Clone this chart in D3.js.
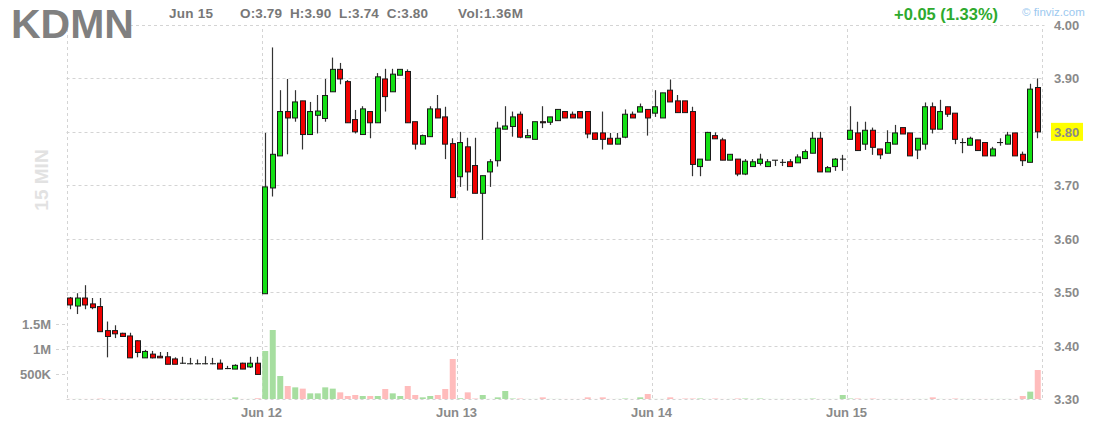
<!DOCTYPE html>
<html>
<head>
<meta charset="utf-8">
<script src="https://cdn.jsdelivr.net/npm/d3@7"></script>
<style>
  html, body { margin: 0; padding: 0; background: #fff; }
  svg { display: block; font-family: Arial, 'Liberation Sans', sans-serif; }
</style>
</head>
<body>
<div id="chart"></div>
<script>
// KDMN 15 min bars, Jun 11 - Jun 15 (26 bars per session)
const opens = [
  3.489, 3.474, 3.489, 3.478, 3.473, 3.428, 3.428, 3.423, 3.418, 3.409, 3.377, 3.384, 3.380,
  3.379, 3.375, 3.367, 3.366, 3.366, 3.366, 3.366, 3.367, 3.357, 3.356, 3.367, 3.360, 3.367,
  3.497, 3.695, 3.755, 3.838, 3.826, 3.858, 3.795, 3.831, 3.825, 3.875, 3.917, 3.894, 3.823,
  3.795, 3.838, 3.817, 3.899, 3.875, 3.906, 3.913, 3.819, 3.777, 3.791, 3.843, 3.828, 3.778,
  3.716, 3.772, 3.737, 3.685, 3.725, 3.746, 3.805, 3.810, 3.833, 3.789, 3.786, 3.819, 3.818,
  3.821, 3.838, 3.833, 3.838, 3.838, 3.798, 3.798, 3.788, 3.777, 3.790, 3.833, 3.837, 3.842,
  3.835, 3.826, 3.878, 3.858, 3.858, 3.838, 3.735, 3.747, 3.793, 3.785, 3.747, 3.749, 3.721,
  3.735, 3.741, 3.735, 3.747, 3.743, 3.744, 3.742, 3.750, 3.760, 3.788, 3.725, 3.735, 3.749,
  3.786, 3.798, 3.777, 3.803, 3.768, 3.760, 3.777, 3.808, 3.798, 3.766, 3.777, 3.847, 3.805,
  3.847, 3.835, 3.780, 3.775, 3.785, 3.780, 3.755, 3.780, 3.777, 3.798, 3.758, 3.743, 3.883
];
const highs = [
  3.491, 3.498, 3.513, 3.489, 3.489, 3.445, 3.438, 3.424, 3.424, 3.410, 3.392, 3.390, 3.388,
  3.388, 3.378, 3.379, 3.377, 3.374, 3.380, 3.377, 3.374, 3.362, 3.365, 3.368, 3.379, 3.379,
  3.798, 3.958, 3.878, 3.899, 3.878, 3.858, 3.856, 3.869, 3.899, 3.939, 3.929, 3.897, 3.841,
  3.848, 3.838, 3.910, 3.918, 3.918, 3.917, 3.917, 3.819, 3.795, 3.848, 3.869, 3.847, 3.788,
  3.800, 3.789, 3.789, 3.718, 3.749, 3.819, 3.848, 3.838, 3.838, 3.805, 3.819, 3.848, 3.828,
  3.842, 3.838, 3.838, 3.838, 3.838, 3.798, 3.838, 3.798, 3.798, 3.842, 3.838, 3.853, 3.842,
  3.878, 3.873, 3.898, 3.869, 3.858, 3.847, 3.749, 3.800, 3.799, 3.789, 3.758, 3.749, 3.749,
  3.749, 3.759, 3.749, 3.747, 3.749, 3.749, 3.758, 3.767, 3.800, 3.800, 3.736, 3.751, 3.757,
  3.848, 3.819, 3.819, 3.808, 3.768, 3.803, 3.813, 3.808, 3.798, 3.788, 3.855, 3.855, 3.860,
  3.847, 3.835, 3.788, 3.791, 3.785, 3.780, 3.772, 3.788, 3.800, 3.798, 3.763, 3.890, 3.900
];
const lows = [
  3.468, 3.459, 3.468, 3.468, 3.426, 3.378, 3.414, 3.417, 3.377, 3.378, 3.377, 3.376, 3.377,
  3.365, 3.365, 3.366, 3.365, 3.365, 3.365, 3.365, 3.356, 3.356, 3.356, 3.356, 3.358, 3.346,
  3.497, 3.679, 3.755, 3.758, 3.819, 3.767, 3.795, 3.797, 3.819, 3.875, 3.889, 3.817, 3.797,
  3.795, 3.788, 3.817, 3.838, 3.875, 3.906, 3.817, 3.767, 3.777, 3.791, 3.826, 3.749, 3.677,
  3.697, 3.690, 3.685, 3.598, 3.697, 3.735, 3.805, 3.791, 3.788, 3.789, 3.786, 3.807, 3.813,
  3.821, 3.826, 3.826, 3.826, 3.788, 3.786, 3.767, 3.777, 3.777, 3.788, 3.826, 3.837, 3.793,
  3.828, 3.826, 3.856, 3.836, 3.836, 3.717, 3.717, 3.747, 3.787, 3.747, 3.747, 3.717, 3.719,
  3.735, 3.737, 3.735, 3.736, 3.736, 3.735, 3.742, 3.749, 3.760, 3.725, 3.725, 3.727, 3.727,
  3.786, 3.765, 3.766, 3.757, 3.749, 3.760, 3.777, 3.796, 3.755, 3.749, 3.767, 3.797, 3.805,
  3.828, 3.777, 3.760, 3.775, 3.765, 3.755, 3.755, 3.774, 3.777, 3.755, 3.736, 3.743, 3.788
];
const closes = [
  3.476, 3.489, 3.476, 3.471, 3.426, 3.417, 3.422, 3.417, 3.377, 3.387, 3.389, 3.377, 3.377,
  3.365, 3.365, 3.367, 3.366, 3.366, 3.366, 3.366, 3.356, 3.357, 3.363, 3.356, 3.367, 3.346,
  3.697, 3.758, 3.838, 3.826, 3.856, 3.795, 3.838, 3.839, 3.868, 3.917, 3.899, 3.817, 3.800,
  3.843, 3.817, 3.903, 3.866, 3.908, 3.917, 3.817, 3.777, 3.793, 3.843, 3.826, 3.777, 3.677,
  3.780, 3.725, 3.685, 3.718, 3.744, 3.807, 3.811, 3.828, 3.790, 3.793, 3.819, 3.817, 3.828,
  3.842, 3.826, 3.826, 3.826, 3.796, 3.786, 3.786, 3.777, 3.788, 3.833, 3.826, 3.847, 3.826,
  3.847, 3.873, 3.856, 3.836, 3.836, 3.739, 3.749, 3.799, 3.787, 3.747, 3.758, 3.721, 3.745,
  3.744, 3.749, 3.744, 3.747, 3.743, 3.735, 3.753, 3.763, 3.788, 3.725, 3.733, 3.749, 3.749,
  3.803, 3.765, 3.803, 3.771, 3.757, 3.780, 3.798, 3.796, 3.755, 3.788, 3.847, 3.805, 3.838,
  3.833, 3.786, 3.780, 3.788, 3.765, 3.755, 3.768, 3.780, 3.794, 3.755, 3.746, 3.880, 3.800
];
// volume in thousands of shares
const volumes = [
  2, 2, 2, 2, 8, 2, 2, 2, 2, 2, 2, 2, 2,
  2, 2, 2, 2, 2, 2, 2, 2, 2, 33, 2, 2, 15,
  960, 1380, 460, 260, 233, 207, 113, 113, 233, 207, 133, 60, 80,
  60, 60, 60, 200, 113, 60, 260, 80, 33, 60, 80, 200, 800,
  15, 133, 10, 80, 2, 33, 160, 10, 10, 2, 2, 33, 2,
  2, 2, 2, 2, 33, 2, 33, 2, 2, 10, 2, 33, 100,
  2, 2, 33, 2, 10, 10, 10, 2, 10, 2, 2, 10, 10,
  2, 10, 2, 2, 2, 2, 2, 2, 10, 2, 2, 2, 80,
  10, 10, 2, 10, 2, 2, 2, 2, 2, 2, 2, 33, 2,
  2, 10, 2, 2, 2, 2, 2, 2, 2, 2, 60, 147, 580
];

const dayLabels = ['Jun 12', 'Jun 13', 'Jun 14', 'Jun 15'];
const dayStarts = [26, 52, 78, 104];
const priceTicks = [3.30, 3.40, 3.50, 3.60, 3.70, 3.80, 3.90, 4.00];
const volumeTicks = [500, 1000, 1500];
const volumeTickLabels = ['500K', '1M', '1.5M'];

const ticker = 'KDMN';
const headerDate = 'Jun 15';
const ohlcText = 'O:3.79  H:3.90  L:3.74  C:3.80';
const volText = 'Vol:1.36M';
const changeText = '+0.05 (1.33%)';
const lastPrice = 3.80;

function renderChart() {
    const width = 1094, height = 428;
    const plot = { left: 66.5, right: 1041.5, top: 25, bottom: 399 };

    const svg = d3.select('#chart').append('svg')
        .attr('width', width)
        .attr('height', height)
        .attr('viewBox', [0, 0, width, height]);

    const x = d3.scaleBand()
        .domain(d3.range(opens.length))
        .range([plot.left, plot.right]);
    const y = d3.scaleLinear().domain([3.30, 4.00]).range([plot.bottom, plot.top]);
    const yVol = d3.scaleLinear().domain([0, 1500]).range([plot.bottom, 324]);

    const cx = i => x(i) + x.bandwidth() / 2;
    const crisp = v => Math.round(v) + 0.5;

    const gridColor = '#d4d4d4';
    const labelColor = '#8a8a8a';

    // Grid
    const grid = svg.append('g').attr('stroke', gridColor).attr('stroke-dasharray', '3,3');
    grid.selectAll('line.h')
        .data(priceTicks)
        .join('line')
        .attr('class', 'h')
        .attr('x1', d => d === 4.00 ? 130 : plot.left)
        .attr('x2', plot.right + 3)
        .attr('y1', d => crisp(y(d)))
        .attr('y2', d => crisp(y(d)));

    const vLines = [plot.left, ...dayStarts.map(i => x(i)), plot.right];
    grid.selectAll('line.v')
        .data(vLines)
        .join('line')
        .attr('class', 'v')
        .attr('x1', d => crisp(d))
        .attr('x2', d => crisp(d))
        .attr('y1', plot.top + 4)
        .attr('y2', plot.bottom + 2);

    grid.selectAll('line.vt')
        .data(volumeTicks)
        .join('line')
        .attr('class', 'vt')
        .attr('x1', 56)
        .attr('x2', plot.left)
        .attr('y1', d => crisp(yVol(d)))
        .attr('y2', d => crisp(yVol(d)));

    // Volume bars
    svg.append('g')
        .selectAll('rect')
        .data(volumes)
        .join('rect')
        .attr('x', (d, i) => cx(i) - 3)
        .attr('width', 6)
        .attr('y', d => yVol(d))
        .attr('height', d => plot.bottom - yVol(d))
        .attr('fill', (d, i) => closes[i] >= opens[i] ? '#a6dea0' : '#ffbcbc');

    // Candles
    const candles = svg.append('g')
        .selectAll('g')
        .data(opens)
        .join('g');

    candles.append('line')
        .attr('x1', (d, i) => crisp(cx(i) - 0.5))
        .attr('x2', (d, i) => crisp(cx(i) - 0.5))
        .attr('y1', (d, i) => y(highs[i]))
        .attr('y2', (d, i) => y(lows[i]))
        .attr('stroke', '#333')
        .attr('stroke-width', 1.2);

    // doji bodies keep a tiny height so the outline still draws
    candles.append('rect')
        .attr('x', (d, i) => Math.round(cx(i) - 3) + 0.5)
        .attr('width', 5)
        .attr('y', (d, i) => y(Math.max(opens[i], closes[i])))
        .attr('height', (d, i) => Math.max(0.05, Math.abs(y(opens[i]) - y(closes[i]))))
        .attr('fill', (d, i) => closes[i] >= opens[i] ? '#14e014' : '#f00000')
        .attr('stroke', '#1a1a1a')
        .attr('stroke-width', 1);

    // Right price axis
    const last = y(lastPrice);
    svg.append('rect')
        .attr('x', 1051)
        .attr('y', last - 9)
        .attr('width', 32)
        .attr('height', 18)
        .attr('fill', '#ffff00');

    svg.append('g')
        .selectAll('text')
        .data(priceTicks)
        .join('text')
        .attr('x', 1054)
        .attr('y', d => y(d) + 5)
        .attr('fill', labelColor)
        .attr('font-size', '13px')
        .attr('font-weight', 'bold')
        .text(d => d.toFixed(2));

    // Left volume axis
    svg.append('g')
        .selectAll('text')
        .data(volumeTicks)
        .join('text')
        .attr('x', 51)
        .attr('y', d => yVol(d) + 5)
        .attr('text-anchor', 'end')
        .attr('fill', labelColor)
        .attr('font-size', '13px')
        .attr('font-weight', 'bold')
        .text((d, i) => volumeTickLabels[i]);

    svg.append('text')
        .attr('transform', 'translate(48,180) rotate(-90)')
        .attr('text-anchor', 'middle')
        .attr('fill', '#e2e2e2')
        .attr('font-size', '19px')
        .attr('font-weight', 'bold')
        .text('15 MIN');

    // Date labels
    svg.append('g')
        .selectAll('text')
        .data(dayLabels)
        .join('text')
        .attr('x', (d, i) => x(dayStarts[i]))
        .attr('y', 417)
        .attr('text-anchor', 'middle')
        .attr('fill', labelColor)
        .attr('font-size', '13px')
        .attr('font-weight', 'bold')
        .text(d => d);

    // Header
    svg.append('text')
        .attr('x', 11)
        .attr('y', 38)
        .attr('fill', '#808080')
        .attr('font-size', '41px')
        .attr('font-weight', 'bold')
        .text(ticker);

    const header = [
        { x: 169, w: 44, text: headerDate },
        { x: 240, w: 188, text: ohlcText },
        { x: 458, w: 65, text: volText }
    ];
    svg.append('g')
        .selectAll('text')
        .data(header)
        .join('text')
        .attr('x', d => d.x)
        .attr('y', 18)
        .attr('fill', '#777')
        .attr('font-size', '13.5px')
        .attr('font-weight', 'bold')
        .attr('textLength', d => d.w)
        .attr('lengthAdjust', 'spacing')
        .attr('xml:space', 'preserve')
        .style('white-space', 'pre')
        .text(d => d.text);

    svg.append('text')
        .attr('x', 894)
        .attr('y', 20)
        .attr('fill', '#2eaa2e')
        .attr('font-size', '16.5px')
        .attr('font-weight', 'bold')
        .text(changeText);

    svg.append('text')
        .attr('x', 1022)
        .attr('y', 16)
        .attr('fill', '#9cc9ef')
        .attr('font-size', '11.5px')
        .text('\u00a9 finviz.com');
}

renderChart();
</script>
</body>
</html>
